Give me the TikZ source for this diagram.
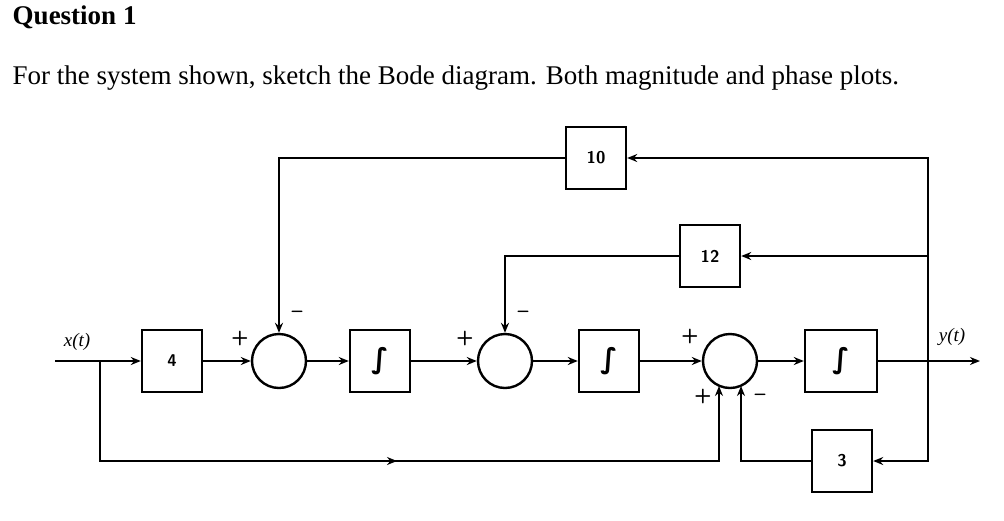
\documentclass[tikz,border=0pt]{standalone}
\usepackage{fontspec}
\setmainfont{Liberation Serif}
\newfontfamily\symfont{DejaVu Sans}
\usetikzlibrary{arrows.meta,decorations.markings}
\begin{document}
\begin{tikzpicture}[x=1pt,y=-1pt,
  every path/.style={line width=2.8pt},
  >={Stealth[length=10pt,width=8pt]},
  blk/.style={draw,line width=2.4pt,minimum width=60pt,minimum height=62pt,inner sep=0pt,font=\sffamily\bfseries\fontsize{17}{17}\selectfont},
  sumc/.style={draw,circle,line width=2.4pt,minimum size=54pt,inner sep=0pt},
  sg/.style={font=\sffamily\bfseries\fontsize{20}{20}\selectfont},
  intg/.style={font=\symfont\bfseries\fontsize{28}{28}\selectfont},
  midarrow/.style={postaction={decorate},decoration={markings,mark=at position #1 with {\arrow{>}}}}]
\useasboundingbox (0,0) rectangle (1004,520);
\node[anchor=west,font=\bfseries\fontsize{27}{27}\selectfont] (title) at (8,17) {Question 1};
\node[anchor=west,font=\fontsize{27}{27}\selectfont] (q) at (8,78) {For the system shown, sketch the Bode diagram. Both magnitude and phase plots.};
\node[blk] (b4) at (172,361) {4};
\node[sumc] (s1) at (279,361) {};
\node[blk,intg] (i1) at (380,361) {∫};
\node[sumc] (s2) at (505,361) {};
\node[blk,intg] (i2) at (609,361) {∫};
\node[sumc] (s3) at (730,361) {};
\node[blk,intg,minimum width=72pt] (i3) at (841,361) {∫};
\node[blk] (b10) at (596,158) {10};
\node[blk] (b12) at (710,256) {12};
\node[blk] (b3) at (842,461) {3};
\coordinate (in) at (55,361);
\coordinate (br) at (100,361);
\coordinate (po) at (928,361);
\coordinate (out) at (980,361);
\draw (in) -- (br);
\draw[->] (br) -- (b4);
\draw[->] (b4) -- (s1);
\draw[->] (s1) -- (i1);
\draw[->] (i1) -- (s2);
\draw[->] (s2) -- (i2);
\draw[->] (i2) -- (s3);
\draw[->] (s3) -- (i3);
\draw[->] (i3) -- (out);
\draw[->] (po) |- (b10.east);
\draw[->] (b10.west) -| (s1.north);
\draw[->] (928,256) -- (b12.east);
\draw[->] (b12.west) -| (s2.north);
\draw[->] (po) |- (b3.east);
\draw[->] (b3.west) -| (741,386);
\draw[->,midarrow=0.5] (br) |- (719,461) -- (719,386);
\node[sg] (p1) at (240,338) {+};
\node[sg] (m1) at (297,314) {–};
\node[sg] (p2) at (465,338) {+};
\node[sg] (m2) at (523,314) {–};
\node[sg] (p3) at (690,336) {+};
\node[sg] (p4) at (703,396) {+};
\node[sg] (m4) at (760,397) {–};
\node[font=\itshape\fontsize{19}{19}\selectfont] (xl) at (77,342) {x(t)};
\node[font=\itshape\fontsize{19}{19}\selectfont] (yl) at (952,337) {y(t)};
\end{tikzpicture}
\end{document}
